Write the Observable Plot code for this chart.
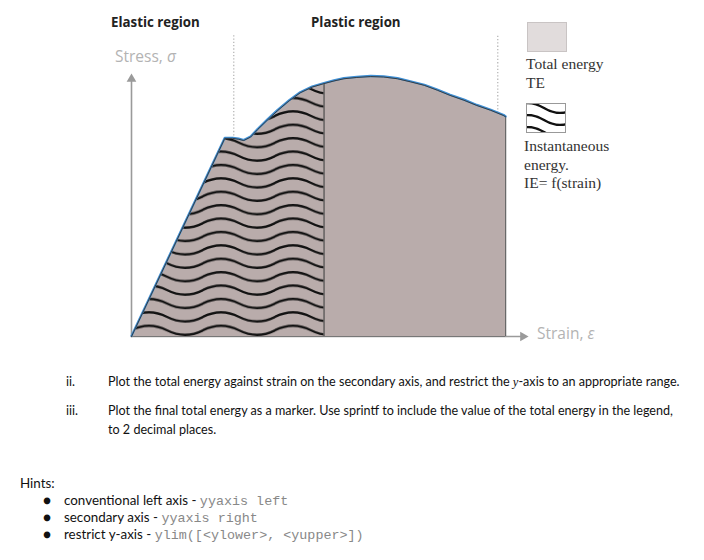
<!DOCTYPE html>
<html>
<head>
<meta charset="utf-8">
<script src="https://cdn.jsdelivr.net/npm/d3@7"></script>
<script src="https://cdn.jsdelivr.net/npm/@observablehq/plot@0.6"></script>
<style>
  html, body { margin: 0; padding: 0; background: #fff; }
  #page { position: relative; width: 704px; height: 560px; overflow: hidden; }
  #page > svg { position: absolute; left: 0; top: 0; }
  .abs { position: absolute; white-space: nowrap; line-height: 1; }
  .head { font-family: "Open Sans", sans-serif; font-weight: 700; font-size: 13.3px; color: #222; }
  .axlab { font-family: "Open Sans", sans-serif; font-size: 15.5px; color: #b3b3b3; }
  .leg { font-family: "Liberation Serif", serif; font-size: 15.5px; color: #333; line-height: 18.5px; }
  .body { font-family: "Lato", sans-serif; font-size: 12.6px; color: #111; }
  .hint { font-family: "Lato", sans-serif; font-size: 13.4px; color: #111; }
  .mono { font-family: "Liberation Mono", monospace; font-size: 13.4px; color: #888; }
</style>
</head>
<body>
<div id="page"></div>
<script>
// ---- data (strain in %, stress in MPa) ----
const strain = [0, 9.4, 10.2, 10.8, 11.3, 12.0, 12.7, 13.7, 14.7, 15.9, 17.0, 18.2, 19.4, 20.4, 21.4, 22.7, 24.1, 25.4, 26.8, 28.1, 29.5, 30.8, 32.1, 33.5, 34.8, 36.2, 37.5, 37.7];
const stress = [0, 452, 452, 450, 447, 455, 472, 494, 515, 538, 556, 569, 577, 583, 588, 591, 593, 592, 588, 581, 573, 562, 550, 539, 527, 516, 504, 501];
const splitStrain = 19.4;            // end of the instantaneous-energy (hatched) part
const boundaryStrain = [10.3, 36.9]; // dotted region boundaries
const boundaryLow = [450, 509];
const boundaryHigh = 687;
const strainMax = 40, stressMax = 600;
const regionLabels = ["Elastic region", "Plastic region"];

const curve = strain.map((s, i) => ({strain: s, stress: stress[i]}));
const ie = curve.filter(d => d.strain <= splitStrain);
const last = curve[curve.length - 1];
const splitStress = stress[strain.indexOf(splitStrain)];

const fillCol = "#b9acab";
const axisCol = "#9a9a9a";

const chart = Plot.plot({
  width: 704,
  height: 350,
  marginLeft: 131,
  marginRight: 176,
  marginTop: 73,
  marginBottom: 14,
  x: {domain: [0, strainMax], axis: null},
  y: {domain: [0, stressMax], axis: null},
  marks: [
    // dotted boundaries
    Plot.ruleX(boundaryStrain, {x: d => d, y1: (d, i) => boundaryLow[i], y2: boundaryHigh,
      stroke: "#bdbdbd", strokeWidth: 1.4, strokeDasharray: "1.3,2"}),
    // axes
    Plot.ruleY([0], {x1: 0, x2: strainMax - 0.6, stroke: axisCol, strokeWidth: 1.6}),
    Plot.ruleX([0], {y1: -3, y2: stressMax - 12, stroke: axisCol, strokeWidth: 1.6}),
    Plot.dot([{x: 0, y: stressMax}], {x: "x", y: "y", symbol: "triangle", r: 3.6, fill: axisCol, stroke: "none", dy: 5.5}),
    Plot.dot([{x: strainMax, y: 0}], {x: "x", y: "y", symbol: "triangle", r: 3.6, fill: axisCol, stroke: "none", rotate: 90, dx: -5.5}),
    // total energy area
    Plot.areaY(curve, {x: "strain", y: "stress", fill: fillCol}),
    // instantaneous energy hatch
    Plot.areaY(ie, {x: "strain", y: "stress", fill: "url(#waves)"}),
    // edges
    Plot.ruleX([splitStrain], {y1: 0, y2: splitStress, stroke: "#444", strokeWidth: 1.1}),
    Plot.ruleX([last.strain], {y1: 0, y2: last.stress, stroke: "#555", strokeWidth: 1.1}),
    Plot.ruleY([0], {x1: 0, x2: last.strain, stroke: "#777", strokeWidth: 1}),
    Plot.line(curve, {x: "strain", y: "stress", stroke: "#3f8fd4", strokeWidth: 2.2, dy: -0.6, strokeLinejoin: "round"}),
    Plot.line(curve, {x: "strain", y: "stress", stroke: "#333", strokeWidth: 0.9, strokeLinejoin: "round"})
  ]
});

// wave pattern for the hatched region
const svg = d3.select(chart);
const pat = svg.insert("defs", ":first-child").append("pattern")
  .attr("id", "waves").attr("patternUnits", "userSpaceOnUse")
  .attr("x", 131).attr("y", 2)
  .attr("width", 72).attr("height", 13.4);
pat.append("path")
  .attr("d", "M-36 6.7 Q-18 15.7 0 6.7 Q18 -2.3 36 6.7 T72 6.7 T108 6.7")
  .attr("fill", "none").attr("stroke", "#111").attr("stroke-width", 2.4);

const page = document.getElementById("page");
page.appendChild(chart);

function addText(cls, left, top, html) {
  const d = document.createElement("div");
  d.className = "abs " + cls;
  d.style.left = left + "px";
  d.style.top = top + "px";
  d.innerHTML = html;
  page.appendChild(d);
  return d;
}

// region headers and axis labels
addText("head", 111, 16, regionLabels[0]);
addText("head", 311, 16, regionLabels[1]);
addText("axlab", 115, 49, "Stress, <i>σ</i>");
addText("axlab", 537, 326, "Strain, <i>ε</i>");

// legend
const sw1 = addText("", 527, 22, "");
Object.assign(sw1.style, {width: "38px", height: "28px", background: "#e1dcdc", border: "1px solid #c9c4c4"});
addText("leg", 526, 55, "Total energy<br>TE");
const sw2 = addText("", 526, 103, "");
sw2.innerHTML = '<svg width="40" height="30"><defs><pattern id="wavesL" patternUnits="userSpaceOnUse" x="-14" y="-1" width="64" height="12"><path d="M-32 6 Q-16 16 0 6 Q16 -4 32 6 T64 6 T96 6" fill="none" stroke="#111" stroke-width="2.4"/></pattern></defs><rect x="0.5" y="0.5" width="39" height="29" fill="url(#wavesL)" stroke="#999"/></svg>';
addText("leg", 524, 137, "Instantaneous<br>energy.<br>IE= f(strain)");

// instructions
addText("body", 66, 376, "ii.");
addText("body", 108, 376, "Plot the total energy against strain on the secondary axis, and restrict the <i style=\"font-family:'Liberation Serif',serif\">y</i>-axis to an appropriate range.");
addText("body", 66, 405, "iii.");
addText("body", 108, 405, "Plot the final total energy as a marker. Use sprintf to include the value of the total energy in the legend,");
addText("body", 108, 424, "to 2 decimal places.");

addText("hint", 20, 477, "Hints:");
const hints = [
  ["conventional left axis - ", "yyaxis left"],
  ["secondary axis - ", "yyaxis right"],
  ["restrict y-axis - ", "ylim([&lt;ylower&gt;, &lt;yupper&gt;])"]
];
hints.forEach((h, i) => {
  const top = 494 + i * 17;
  addText("hint", 43, top, "●");
  addText("hint", 64, top, h[0] + '<span class="mono">' + h[1] + '</span>');
});
</script>
</body>
</html>
